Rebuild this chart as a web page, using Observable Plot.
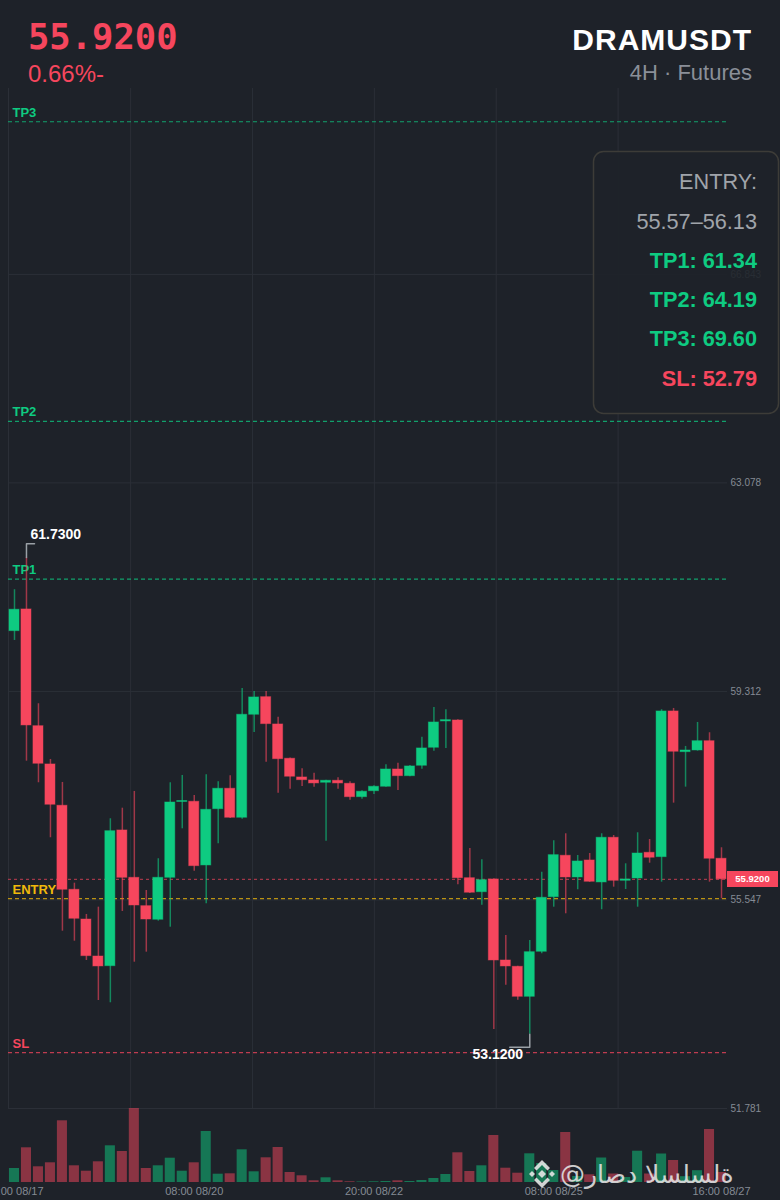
<!DOCTYPE html>
<html><head><meta charset="utf-8">
<script src="https://cdn.jsdelivr.net/npm/d3@7"></script>
<script src="https://cdn.jsdelivr.net/npm/@observablehq/plot@0.6"></script>
<style>
html,body{margin:0;padding:0;background:#1e2229;}
#wrap{position:relative;width:780px;height:1200px;overflow:hidden;background:#1e2229;font-family:"Liberation Sans",Arial,sans-serif;}
#wrap > svg, #wrap > div{position:absolute;left:0;}
</style></head><body><div id="wrap"></div>
<script>
// ---- data ----
const opens  = [60.401,60.793,58.685,57.994,57.248,55.731,55.194,54.526,54.351,56.802,55.947,55.435,55.189,55.947,57.316,57.320,56.170,57.186,57.555,57.031,58.891,59.209,58.716,58.097,57.759,57.705,57.663,57.699,57.645,57.403,57.511,57.591,57.903,57.782,57.970,58.295,58.770,58.788,55.940,55.687,55.917,54.454,54.340,53.798,54.611,55.597,56.345,55.953,56.260,55.863,56.670,55.893,55.935,56.399,56.320,58.951,58.216,58.246,58.414,56.291];
const closes = [60.788,58.698,58.006,57.266,55.731,55.207,54.532,54.346,56.789,55.947,55.447,55.194,55.947,57.307,57.334,56.157,57.175,57.555,57.031,58.891,59.204,58.722,58.089,57.772,57.710,57.651,57.699,57.651,57.403,57.501,57.591,57.903,57.782,57.958,58.283,58.752,58.794,55.940,55.677,55.904,54.454,54.346,53.798,54.604,55.586,56.356,55.953,56.242,55.875,56.670,55.893,55.917,56.386,56.309,58.951,58.223,58.246,58.414,56.291,55.920];
const highs  = [61.149,61.730,59.090,58.084,57.669,55.850,55.285,55.417,57.013,57.204,57.506,55.718,56.291,57.663,57.795,57.434,57.808,57.681,57.790,59.366,59.312,59.312,58.848,58.110,57.916,57.837,57.710,57.753,57.681,57.519,57.609,57.988,58.017,57.976,58.487,59.023,58.982,58.801,56.477,56.273,55.930,54.905,54.350,54.815,56.049,56.616,56.742,56.350,56.386,56.742,56.711,56.200,56.760,56.639,58.982,59.005,58.319,58.752,58.566,56.489];
const lows   = [60.233,58.053,57.663,56.670,54.983,54.802,54.454,53.731,53.690,55.339,54.423,54.604,55.164,55.055,56.832,56.067,55.478,56.561,57.020,57.006,58.572,58.035,57.475,57.548,57.596,57.584,56.608,57.548,57.349,57.367,57.452,57.580,57.524,57.770,57.909,58.234,58.283,55.821,55.665,55.453,53.208,54.008,53.737,53.120,54.575,55.416,55.297,55.731,55.865,55.370,55.778,55.736,55.416,56.211,55.868,57.295,57.584,58.234,55.868,55.568];
const volumes = [14,34.7,15.7,19.7,61.7,16.7,11.3,20.7,36.7,31,74,14,16.7,24.3,11.3,19.7,51,8.3,8.7,32.7,10.7,24.7,35,10,6.7,1.7,4.7,1.7,0.7,0.5,0.7,1,1.7,1,2,4,8,29.7,11,16.7,47,14.3,9.3,28.7,19,12,50,6,7.7,24.5,8.5,5,31.3,8.5,28.5,22,5.8,11.8,53,10];
const xTickIdx = [0,15,30,45,59];
const xTickLabels = ["00:00 08/17","08:00 08/20","20:00 08/22","08:00 08/25","16:00 08/27"];
const yTicks = [51.781,55.547,59.312,63.078,66.843];
const xGrid = [-0.5,9.69,19.86,30.03,40.2,50.37];
const levelNames  = ["TP3","TP2","TP1","ENTRY","SL"];
const levelValues = [69.60,64.19,61.34,55.57,52.79];
const entryRange = [55.57,56.13];
const lastPrice = 55.92;
const changeText = "0.66%-";
const symbol = "DRAMUSDT";
const subtitle = "4H · Futures";
const watermark = "@راصد السلسلة";

// ---- styles ----
const GREEN="#0ecb81", RED="#f6465d", YELLOW="#f0b90b", GRID="#2b2f37", AXIS="#858b94", BG="#1e2229";
const levelColors = {TP3:GREEN,TP2:GREEN,TP1:GREEN,ENTRY:YELLOW,SL:RED};

const candles = opens.map((o,i)=>({i,open:o,close:closes[i],high:highs[i],low:lows[i],vol:volumes[i],up:closes[i]>=o}));
const levels = levelNames.map((n,k)=>({name:n,v:levelValues[k],color:levelColors[n]}));
const hi = candles[d3.maxIndex(candles,d=>d.high)];
const lo = candles[d3.minIndex(candles,d=>d.low)];
const fmt4 = d3.format(".4f");
const col = d => d.up ? GREEN : RED;
const HW = 0.42;

const wrap = document.getElementById("wrap");

const price = Plot.plot({
  width:780, height:1109, marginTop:88, marginBottom:1, marginLeft:8, marginRight:53,
  style:{background:"transparent", overflow:"visible", fontFamily:"Liberation Sans, Arial, sans-serif"},
  x:{type:"linear", domain:[-0.5,59.5], axis:null},
  y:{type:"linear", domain:[51.781,70.2], axis:null},
  color:{type:"identity"},
  marks:[
    Plot.ruleY(yTicks,{stroke:GRID, strokeWidth:1}),
    Plot.ruleX(xGrid,{stroke:GRID, strokeWidth:1}),
    Plot.axisY(yTicks,{anchor:"right", label:null, tickSize:0, tickPadding:3, tickFormat:d3.format(".3f"), fill:AXIS, fontSize:10}),
    Plot.ruleY(levels,{y:"v", stroke:"color", strokeDasharray:"4,3", strokeOpacity:0.75, strokeWidth:1.2}),
    Plot.text(levels,{x:-0.5, y:"v", text:"name", dx:4, dy:-9, textAnchor:"start", fill:"color", fontWeight:"bold", fontSize:13}),
    Plot.ruleY([lastPrice],{stroke:RED, strokeDasharray:"3,3", strokeOpacity:0.6, strokeWidth:1.2}),
    Plot.ruleX(candles,{x:"i", y1:"low", y2:"high", stroke:col, strokeOpacity:0.6, strokeWidth:1.5}),
    Plot.rect(candles,{x1:d=>d.i-HW, x2:d=>d.i+HW, y1:"open", y2:"close", fill:col, stroke:col, strokeOpacity:0.45, strokeWidth:1}),
    Plot.line([{x:hi.i,y:hi.high},{x:hi.i,y:hi.high+0.25},{x:hi.i+0.67,y:hi.high+0.25}],{x:"x",y:"y",stroke:"#9aa0a6",strokeWidth:1.5}),
    Plot.text([hi],{x:"i", y:"high", text:d=>fmt4(d.high), dx:4, dy:-23, textAnchor:"start", fill:"#ffffff", fontWeight:"bold", fontSize:14}),
    Plot.line([{x:lo.i,y:lo.low},{x:lo.i,y:lo.low-0.235},{x:lo.i-1.67,y:lo.low-0.235}],{x:"x",y:"y",stroke:"#9aa0a6",strokeWidth:1.5}),
    Plot.text([lo],{x:"i", y:"low", text:d=>fmt4(d.low), dx:-32, dy:20, textAnchor:"middle", fill:"#ffffff", fontWeight:"bold", fontSize:14})
  ]
});
price.style.top = "0px";
wrap.appendChild(price);

const vol = Plot.plot({
  width:780, height:100, marginTop:8, marginBottom:18, marginLeft:8, marginRight:53,
  style:{background:"transparent", overflow:"visible", fontFamily:"Liberation Sans, Arial, sans-serif"},
  x:{type:"linear", domain:[-0.5,59.5], axis:null},
  y:{domain:[0,d3.max(volumes)], axis:null},
  color:{type:"identity"},
  marks:[
    Plot.rect(candles,{x1:d=>d.i-HW, x2:d=>d.i+HW, y1:0, y2:"vol", fill:col, fillOpacity:0.5}),
    Plot.axisX(xTickIdx,{anchor:"bottom", label:null, tickSize:0, tickPadding:5, tickFormat:d=>xTickLabels[xTickIdx.indexOf(d)], fill:AXIS, fontSize:11})
  ]
});
vol.style.top = "1100px";
wrap.appendChild(vol);

// current price tag via the y scale
const yPx = price.scale("y").apply(lastPrice);
const tag = document.createElement("div");
tag.textContent = d3.format(".4f")(lastPrice);
Object.assign(tag.style,{left:"727px", top:(yPx-8)+"px", width:"51px", height:"16px", background:RED, color:"#fff",
  font:"bold 9.5px 'Liberation Sans', Arial, sans-serif", lineHeight:"16px", textAlign:"center"});
wrap.appendChild(tag);

// overlay: header, info box, watermark
const NS="http://www.w3.org/2000/svg";
const ov = document.createElementNS(NS,"svg");
ov.setAttribute("width",780); ov.setAttribute("height",1200);
ov.style.top="0px"; ov.style.pointerEvents="none";
function t(txt,x,y,attrs){const e=document.createElementNS(NS,"text");e.textContent=txt;e.setAttribute("x",x);e.setAttribute("y",y);
  for(const k in attrs) e.setAttribute(k,attrs[k]); ov.appendChild(e); return e;}
const SANS="Liberation Sans, Arial, sans-serif";
t(d3.format(".4f")(lastPrice),28,49,{"font-family":"DejaVu Sans Mono, monospace","font-weight":"bold","font-size":35.5,fill:RED});
t(changeText,28,82,{"font-family":SANS,"font-size":24,fill:RED});
t(symbol,752,50,{"font-family":SANS,"font-weight":"bold","font-size":30,fill:"#ffffff","text-anchor":"end","letter-spacing":"1"});
t(subtitle,752,80,{"font-family":SANS,"font-size":22,fill:"#8a8f98","text-anchor":"end"});

const box=document.createElementNS(NS,"rect");
Object.entries({x:593.5,y:151.5,width:185,height:262,rx:10,fill:"rgba(30,34,41,0.9)",stroke:"#3d3c38","stroke-width":1.5}).forEach(([k,v])=>box.setAttribute(k,v));
ov.appendChild(box);
const f2=d3.format(".2f");
const BF=21.7;
t("ENTRY:",757,188.5,{"font-family":SANS,"font-size":BF,fill:"#a0a4aa","text-anchor":"end"});
t(f2(entryRange[0])+"–"+f2(entryRange[1]),757,228.5,{"font-family":SANS,"font-size":BF,fill:"#a0a4aa","text-anchor":"end"});
const boxLines=[["TP1",268],["TP2",306.5],["TP3",345.7],["SL",386]];
boxLines.forEach(([n,y])=>{const v=levelValues[levelNames.indexOf(n)];
  t(n+": "+f2(v),757,y,{"font-family":SANS,"font-size":BF,"font-weight":"bold",fill:levelColors[n],"text-anchor":"end"});});

// binance-style logo
const g=document.createElementNS(NS,"g");
g.setAttribute("transform","translate(542,1174)"); g.setAttribute("fill","#e6e6e6"); g.setAttribute("opacity","0.9");
["M0,-4 L4,0 L0,4 L-4,0Z","M-10,-3 L-7,0 L-10,3 L-13,0Z","M10,-3 L13,0 L10,3 L7,0Z",
 "M0,-14 L8,-6 L5.5,-3.5 L0,-9 L-5.5,-3.5 L-8,-6Z","M0,14 L8,6 L5.5,3.5 L0,9 L-5.5,3.5 L-8,6Z"].forEach(p=>{
  const e=document.createElementNS(NS,"path");e.setAttribute("d",p);g.appendChild(e);});
ov.appendChild(g);
const wm=t(watermark,560,1183,{"font-family":"DejaVu Sans, sans-serif","font-size":25,fill:"#e6e6e6",opacity:"0.88","letter-spacing":"2.5"});
wm.setAttribute("style","unicode-bidi:bidi-override;direction:ltr");
wrap.appendChild(ov);
</script></body></html>
